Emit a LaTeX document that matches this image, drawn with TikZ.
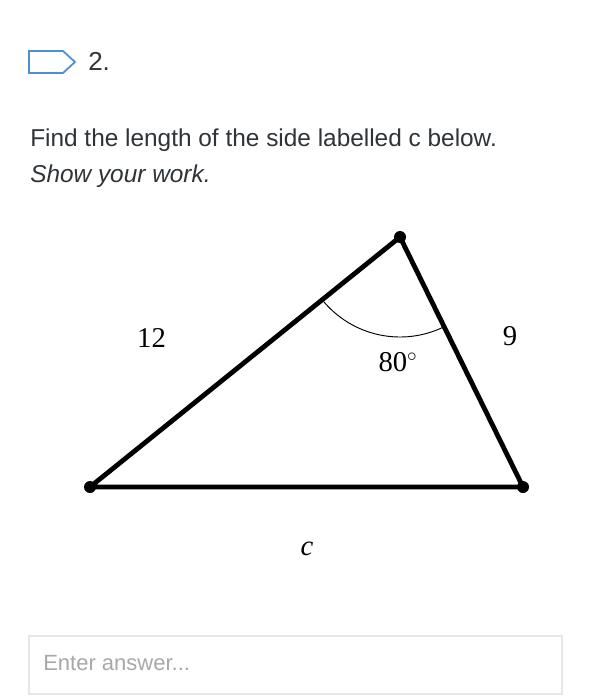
\documentclass[tikz,border=0pt]{standalone}
\usepackage{fontspec}
\setmainfont{Liberation Sans}
\newfontfamily\serifl{Liberation Serif}
\usetikzlibrary{angles}
\definecolor{txt}{HTML}{2F3439}
\definecolor{flagblue}{HTML}{4A8FD8}
\definecolor{boxgray}{HTML}{E6E6E6}
\definecolor{hintgray}{HTML}{A8A8A8}
\tikzset{
  side/.style={line width=3.6pt, line cap=round},
  vert/.style={circle, fill=black, inner sep=0pt, minimum size=9pt},
  lab/.style={font=\serifl\fontsize{21.5}{24}\selectfont, inner sep=0pt},
  body/.style={font=\fontsize{18.3}{21}\selectfont, text=txt, anchor=west, inner sep=0pt},
}
\begin{document}
\begin{tikzpicture}[x=0.75pt, y=-0.75pt]
\useasboundingbox[fill=white] (0,0) rectangle (593,700);
% header flag
\draw[flagblue, line width=1.3pt, line join=miter] (29,51) -- (63,51) -- (75,62) -- (63,73) -- (29,73) -- cycle;
\node[body, font=\fontsize{19.5}{22}\selectfont] (num) at (88,61) {2.};
\node[body] (q1) at (30,140) {Find the length of the side labelled c below.};
\node[body, font=\itshape\fontsize{18.3}{21}\selectfont] (q2) at (30,176) {Show your work.};
% triangle
\coordinate (A) at (90,487);
\coordinate (B) at (400,237);
\coordinate (C) at (523,487);
\draw[side, line join=round] (A) -- (B) -- (C) -- cycle;
\pic[draw, line width=0.7pt, angle radius=75pt] {angle = A--B--C};
\node[vert] (dA) at (A) {};
\node[vert] (dB) at (B) {};
\node[vert] (dC) at (C) {};
\node[lab] (l12) at (151.5,338) {12};
\node[lab] (l9) at (510,336) {9};
\node[lab] (l80) at (398,362) {80$^\circ$};
\node[lab, font=\serifl\itshape\fontsize{21.5}{24}\selectfont] (lc) at (307,549) {c};
% answer box
\draw[boxgray, line width=2.2pt] (29,636) rectangle (562,694);
\node[body, text=hintgray, font=\fontsize{16.5}{19}\selectfont] (ans) at (43,663) {Enter answer...};
\end{tikzpicture}
\end{document}
